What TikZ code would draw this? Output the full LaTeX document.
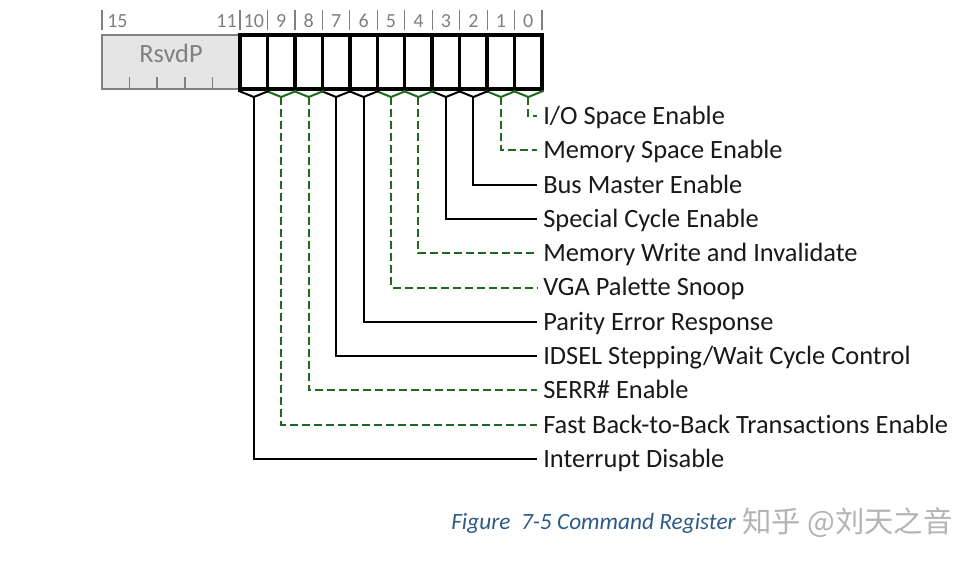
\documentclass[tikz,border=0pt]{standalone}
\usepackage{fontspec}
\setmainfont[Ligatures=NoCommon]{Carlito}
\newfontfamily\cjk{Noto Sans CJK SC}
\definecolor{dgreen}{HTML}{1E6B1E}
\definecolor{capblue}{HTML}{2F5A88}
\definecolor{numgray}{HTML}{808080}
\definecolor{wmgray}{HTML}{B4B4B4}
\begin{document}
\begin{tikzpicture}[x=0.75pt,y=-0.75pt,
  bitcell/.style={draw=black,line width=2.6pt,minimum width=27.45*0.75pt,minimum height=54*0.75pt,inner sep=0pt},
  rsvdbox/.style={draw=numgray,fill=black!10,line width=2.2pt,minimum width=138*0.75pt,minimum height=54*0.75pt,inner sep=0pt},
  bitnum/.style={text=numgray,font=\fontsize{15}{15}\selectfont,inner sep=0pt},
  sep/.style={draw=numgray,line width=0.9pt},
  fieldlabel/.style={anchor=west,inner xsep=4.5pt,inner ysep=0pt,text height=12.7pt,text depth=0pt,text=black!90,font=\fontsize{19.8}{20}\selectfont},
  solidconn/.style={draw=black,line width=1.5pt},
  dashconn/.style={draw=dgreen,line width=1.5pt,dash pattern=on 6pt off 3pt},
]
\path[use as bounding box,fill=white] (0,0) rectangle (977,564);
% reserved field
\node[rsvdbox] (rsvd) at (171,62) {};
\node[text=numgray,font=\fontsize{19.8}{20}\selectfont,inner sep=0pt] (rsvdtxt) at (171,53) {RsvdP};
\foreach \k in {1,...,4}{
  \draw[sep,line width=1.1pt] (102+27.6*\k,77) -- (102+27.6*\k,89);
}
% top separators and bit numbers
\draw[sep] (102,10) -- (102,30);
\node[bitnum,anchor=west] (n15) at (107,21) {15};
\node[bitnum,anchor=east] (n11) at (237,21) {11};
\foreach \i in {0,...,11}{
  \draw[sep] (542-27.45*\i,10) -- (542-27.45*\i,30);
}
\foreach \i in {0,...,10}{
  \node[bitnum] (n\i) at (542-27.45*\i-13.7,21) {\i};
}
% bit cells
\foreach \i in {0,...,10}{
  \node[bitcell] (b\i) at (542-27.45*\i-13.725,62) {};
}
% labels
\foreach \i/\t in {0/{I/O Space Enable},1/{Memory Space Enable},2/{Bus Master Enable},3/{Special Cycle Enable},4/{Memory Write and Invalidate},5/{VGA Palette Snoop},6/{Parity Error Response},7/{IDSEL Stepping/Wait Cycle Control},8/{SERR\# Enable},9/{Fast Back-to-Back Transactions Enable},10/{Interrupt Disable}}{
  \node[fieldlabel] (l\i) at (537,116+34.3*\i) {\t};
}
% connectors
\foreach \i/\s in {0/dashconn,1/dashconn,2/solidconn,3/solidconn,4/dashconn,5/dashconn,6/solidconn,7/solidconn,8/dashconn,9/dashconn,10/solidconn}{
  \coordinate (v\i) at (542-27.45*\i-13.725,97);
  \draw[\s,dash pattern=on 20pt off 0pt] (b\i.south west) -- (v\i) -- (b\i.south east);
  \draw[\s] (v\i) |- (l\i.west);
}
% caption
\node[anchor=west,inner sep=0pt,text=capblue,font=\itshape\fontsize{17.5}{17.5}\selectfont] (cap) at (451,523) {Figure\ \ 7-5 Command Register};
\node[anchor=west,inner sep=0pt,text=wmgray,font=\cjk\fontsize{22}{22}\selectfont] (wm) at (742,523) {知乎 @刘天之音};
\end{tikzpicture}
\end{document}
